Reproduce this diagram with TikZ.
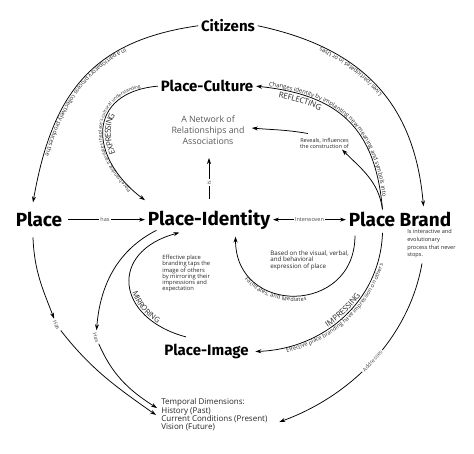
\documentclass[tikz,border=0pt]{standalone}
\usepackage{fontspec}
\setmainfont{Open Sans}
\newfontfamily\headfont{Fira Sans}
\usetikzlibrary{arrows.meta, decorations.text, positioning}

\newcommand\arcfont{\fontsize{5.9}{6}\selectfont}
\newcommand\smallarcfont{\fontsize{5.5}{6}\selectfont}
\newcommand\tinyarcfont{\fontsize{4.6}{5}\selectfont}
\newcommand\capsfont{\fontsize{8}{9}\selectfont}

\begin{document}
\begin{tikzpicture}[
    x=1pt, y=1pt,
    >={Stealth[length=6pt,width=4pt]},
    line width=0.75pt,
    bigword/.style={font=\headfont\bfseries\fontsize{19}{22}\selectfont, inner sep=2.5pt, anchor=base},
    midword/.style={bigword, font=\headfont\bfseries\fontsize{15}{18}\selectfont},
    note/.style={align=left, inner sep=0pt, anchor=north west, text=black!85},
    lbl/.style={font=\fontsize{5.5}{6}\selectfont, fill=white, inner sep=1.5pt, text=black!70},
    arctext/.style={decorate, decoration={text along path, text color=black!85, #1}}
]
\useasboundingbox (0,0) rectangle (474,-453);

% main concepts
\node[midword] (cit) at (228,-31.7) {Citizens};
\node[midword] (cult) at (207,-91.7) {Place-Culture};
\node[bigword] (place) at (39,-226.7) {Place};
\node[bigword] (ident) at (209,-225.5) {Place-Identity};
\node[bigword] (brand) at (400,-226.7) {Place Brand};
\node[midword] (image) at (206.5,-355.5) {Place-Image};

% descriptions
\node[align=center, inner sep=1pt, text=black!65, font=\fontsize{8.8}{10.7}\selectfont] (net) at (208,-130) {A Network of\\Relationships and\\Associations};
\node[note, align=center, anchor=center, inner sep=1pt, font=\fontsize{5.5}{6}\selectfont] (reveals) at (324.5,-143) {Reveals, Influences\\the construction of};
\node[note, font=\fontsize{5.6}{7.7}\selectfont] (interact) at (407,-229) {Is interactive and\\evolutionary\\process that never\\stops.};
\node[note, font=\fontsize{6.2}{6.6}\selectfont] (based) at (270,-250) {Based on the visual, verbal,\\and behavioral\\expression of place};
\node[note, font=\fontsize{5.8}{6.15}\selectfont] (effective) at (162,-255) {Effective place\\branding taps the\\image of others\\by mirroring their\\impressions and\\expectation};
\node[note, anchor=west, font=\fontsize{8}{8.33}\selectfont] (temp) at (161,-415) {Temporal Dimensions:\\History (Past)\\Current Conditions (Present)\\Vision (Future)};

% labels that break the lines
\node[lbl, rotate=-65] (has1) at (56.5,-325) {Has};
\node[lbl, rotate=-72] (has2) at (96,-337.5) {Has};

% straight links
\draw[->, shorten <=3pt] (place.east) -- node[lbl]{has} (ident.west |- place.east);
\draw[<->] (ident.east |- place.east) -- node[lbl]{Interwoven} (brand.west |- place.east);
\draw[->, shorten <=8.5pt, shorten >=12.5pt] (ident.north) -- node[lbl, sloped, pos=0.4]{is} (ident.north |- net.south);

% outer ring
\draw[->] (cit.west) to[out=188, in=80, looseness=1.15] ([shift={(-6pt,7pt)}]place.north);
\path[arctext={text={|\arcfont|in a participatory process collectively produces the}, raise=1.5pt, text align={center, left indent=28pt}}]
    (cit.west) to[out=188, in=80, looseness=1.15] ([shift={(-6pt,7pt)}]place.north);
\draw[<-] ([shift={(23.5pt,3pt)}]brand.north) to[out=95, in=-12, looseness=1.1] (cit.east);
\path[arctext={text={|\arcfont|Lives /participates in or Uses}, raise=1.5pt, text align={center, left indent=55pt}}]
    ([shift={(23.5pt,3pt)}]brand.north) to[out=95, in=-12, looseness=1.1] (cit.east);

% expressing
\draw[<-] ([yshift=7pt]ident.north west) to[out=143, in=185, looseness=1.6] (cult.west);
\path[arctext={text={|\tinyarcfont|Place branding translates the place's cultural understanding}, raise=1.5pt, text align=center}]
    ([yshift=7pt]ident.north west) to[out=143, in=185, looseness=1.6] (cult.west);
\path[arctext={text={|\capsfont|EXPRESSING}, raise=-7.5pt, text align=center}]
    ([yshift=7pt]ident.north west) to[out=143, in=185, looseness=1.6] (cult.west);

% reflecting
\draw[<-] (cult.east) to[out=-6, in=95, looseness=1.2] ([xshift=-17.5pt]brand.north);
\path[arctext={text={|\arcfont|Changes identity by implanting new meaning and symbols into}, raise=1.5pt, text align=center}]
    (cult.east) to[out=-6, in=95, looseness=1.2] ([xshift=-17.5pt]brand.north);
\path[arctext={text={|\capsfont|REFLECTING}, raise=-8pt, text align={left, left indent=24pt}}]
    (cult.east) to[out=-6, in=95, looseness=1.2] ([xshift=-17.5pt]brand.north);

% reveals
\draw[->] ([xshift=-17.5pt]brand.north) to[out=98, in=-45] ([xshift=17.5pt]reveals.south);
\draw[->] ([shift={(9pt,3pt)}]reveals.north west) to[out=170, in=-5] ([shift={(6pt,2pt)}]net.east);

% facilitates
\draw[<-] ([shift={(-37.5pt,-4pt)}]ident.south east) to[out=-90, in=-90, looseness=1.7] ([shift={(9pt,-5.8pt)}]brand.south west);
\path[arctext={text={|\smallarcfont|Facilitates, and Mediates}, raise=-5.5pt, text align={center, right indent=42pt}}]
    ([shift={(-37.5pt,-4pt)}]ident.south east) to[out=-90, in=-90, looseness=1.7] ([shift={(9pt,-5.8pt)}]brand.south west);

% impressing
\draw[<-] ([xshift=4pt]image.east) to[out=2, in=-92] ([shift={(-17.5pt,-3pt)}]brand.south);
\path[arctext={text={|\capsfont|IMPRESSING}, raise=1.5pt, text align={center, left indent=10pt}}]
    ([xshift=4pt]image.east) to[out=2, in=-92] ([shift={(-17.5pt,-3pt)}]brand.south);
\path[arctext={text={|\smallarcfont|Effective place branding have impression on others}, raise=-5.5pt, text align=center}]
    ([xshift=4pt]image.east) to[out=2, in=-92] ([shift={(-17.5pt,-3pt)}]brand.south);

% mirroring
\draw[<-] ([xshift=34.5pt]ident.south west) to[out=195, in=165, looseness=1.8] ([shift={(24.5pt,4.3pt)}]image.north west);
\path[arctext={text={|\fontsize{7.5}{8}\selectfont|MIRRORING}, raise=1.5pt, text align={center, left indent=55pt}}]
    ([xshift=34.5pt]ident.south west) to[out=195, in=165, looseness=1.8] ([shift={(24.5pt,4.3pt)}]image.north west);

% time
\draw[->] ([shift={(15pt,-5pt)}]interact.south west) to[out=-100, in=20, looseness=0.91] node[lbl, sloped]{Addresses} ([shift={(11.5pt,-7pt)}]temp.east);
\draw[->] ([shift={(-6pt,-7.5pt)}]place.south) to[out=-88, in=117] (has1);
\draw[->] (has1) to[out=-47, in=145] ([xshift=-5pt]temp.west);
\draw[->] ([shift={(11.5pt,2.3pt)}]ident.south west) to[out=207, in=90] (has2);
\draw[->] (has2) to[out=-60, in=148] ([shift={(-4pt,7pt)}]temp.west);

\end{tikzpicture}
\end{document}
